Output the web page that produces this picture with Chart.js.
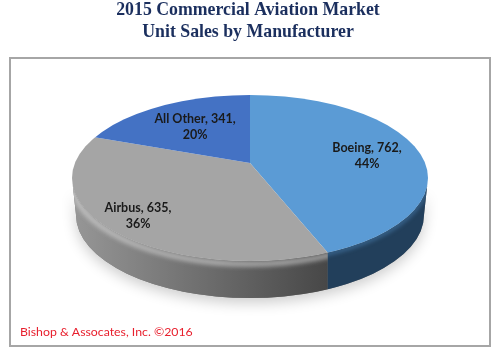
<!DOCTYPE html>
<html lang="en">
<head>
    <meta charset="UTF-8">
    <title>2015 Commercial Aviation Market</title>
    <script src="https://cdn.jsdelivr.net/npm/chart.js"></script>
    <style>
        html, body { margin: 0; padding: 0; background: #fff; }
        #wrap { width: 496px; height: 353px; }
    </style>
</head>
<body>
<div id="wrap"><canvas id="pieChart" width="496" height="353"></canvas></div>

<script>
    const titleLines = ['2015 Commercial Aviation Market', 'Unit Sales by Manufacturer'];
    const sourceNote = 'Bishop & Assocates, Inc. ©2016';
    const manufacturers = ['Boeing', 'Airbus', 'All Other'];
    const unitSales = [762, 635, 341];
    const shares = ['44%', '36%', '20%'];
    const sliceColors = ['#5b9bd5', '#a5a5a5', '#4472c4'];

    // look of the tilted pie: outline ellipse, apex of the slices, tilt
    const rim = { cx: 250, cy: 178, rx: 178, ry: 83, depth: 37, baseRx: 174 };
    const apexY = 163;
    const tilt = 0.47;
    const labelSpots = [[367, 148], [138, 208], [195, 119]];

    function ellipsePath(ctx, dy) {
        ctx.beginPath();
        ctx.ellipse(rim.cx, rim.cy + dy, rim.rx, rim.ry, 0, 0, Math.PI * 2);
    }

    function wallPath(ctx) {
        ctx.beginPath();
        ctx.ellipse(rim.cx, rim.cy, rim.rx, rim.ry, 0, Math.PI, 0, true);
        ctx.ellipse(rim.cx, rim.cy + rim.depth, rim.baseRx, rim.ry, 0, 0, Math.PI);
        ctx.closePath();
    }

    // where the Boeing/Airbus slice edge meets the rim
    function splitX(angle) {
        const dx = Math.cos(angle), dy = Math.sin(angle) * tilt, off = apexY - rim.cy;
        const a = dx * dx / (rim.rx * rim.rx) + dy * dy / (rim.ry * rim.ry);
        const b = 2 * off * dy / (rim.ry * rim.ry);
        const c = off * off / (rim.ry * rim.ry) - 1;
        const t = (-b + Math.sqrt(b * b - 4 * a * c)) / (2 * a);
        return rim.cx + t * dx;
    }

    function clipSide(ctx, x0, x1) {
        ctx.beginPath();
        ctx.rect(x0, 0, x1 - x0, 353);
        ctx.clip();
    }

    const tiltedPie = {
        id: 'tiltedPie',
        beforeDatasetsDraw(chart) {
            const ctx = chart.ctx;
            const arcs = chart.getDatasetMeta(0).data;
            const split = splitX(arcs[0].endAngle);

            // frame
            ctx.save();
            ctx.strokeStyle = '#a6a6a6';
            ctx.lineWidth = 2;
            ctx.strokeRect(10, 58, 480, 288);
            ctx.restore();

            // soft shadow under the wall
            ctx.save();
            ctx.shadowColor = 'rgba(0,0,0,0.2)';
            ctx.shadowBlur = 14;
            ctx.shadowOffsetY = 5;
            ctx.fillStyle = '#777';
            wallPath(ctx);
            ctx.fill();
            ctx.restore();

            // wall, gray part then dark blue part
            const gray = ctx.createLinearGradient(rim.cx - rim.rx, 0, split, 0);
            gray.addColorStop(0, '#979797');
            gray.addColorStop(1, '#474747');

            ctx.save();
            clipSide(ctx, 0, split);
            ctx.fillStyle = gray;
            wallPath(ctx);
            ctx.fill();
            ctx.restore();

            ctx.save();
            clipSide(ctx, split, 496);
            ctx.fillStyle = '#223f5b';
            wallPath(ctx);
            ctx.fill();
            ctx.restore();

            // bevel just below the top face
            ctx.save();
            wallPath(ctx);
            ctx.clip();
            ctx.save();
            clipSide(ctx, 0, split);
            ctx.strokeStyle = 'rgba(225,225,225,0.75)';
            ctx.lineWidth = 4;
            ctx.filter = 'blur(2.5px)';
            ellipsePath(ctx, 3);
            ctx.stroke();
            ctx.restore();
            ctx.save();
            clipSide(ctx, split, 496);
            ctx.strokeStyle = 'rgba(91,155,213,0.55)';
            ctx.lineWidth = 3;
            ctx.filter = 'blur(2px)';
            ellipsePath(ctx, 1);
            ctx.stroke();
            ctx.restore();
            ctx.restore();

            // slices are drawn by the library inside this tilted clip
            ctx.save();
            ellipsePath(ctx, 0);
            ctx.clip();
            ctx.translate(rim.cx, apexY);
            ctx.scale(1, tilt);
            ctx.translate(-arcs[0].x, -arcs[0].y);
        },
        afterDatasetsDraw(chart) {
            const ctx = chart.ctx;
            ctx.restore();

            // data labels
            ctx.save();
            ctx.fillStyle = '#1a1a1a';
            ctx.font = 'bold 12.5px Lato';
            ctx.textAlign = 'center';
            ctx.textBaseline = 'middle';
            manufacturers.forEach((name, i) => {
                const [x, y] = labelSpots[i];
                ctx.fillText(name + ', ' + unitSales[i] + ',', x, y);
                ctx.fillText(shares[i], x, y + 16);
            });
            ctx.restore();

            // source note
            ctx.save();
            ctx.fillStyle = '#e8202e';
            ctx.font = '12.3px Lato';
            ctx.textAlign = 'left';
            ctx.textBaseline = 'middle';
            ctx.fillText(sourceNote, 20, 332);
            ctx.restore();
        }
    };

    new Chart(document.getElementById('pieChart'), {
        type: 'pie',
        data: {
            labels: manufacturers,
            datasets: [{
                data: unitSales,
                backgroundColor: sliceColors,
                borderWidth: 0,
                radius: 240,
                clip: false
            }]
        },
        options: {
            responsive: false,
            animation: false,
            layout: { padding: 0 },
            plugins: {
                legend: { display: false },
                tooltip: { enabled: false },
                title: {
                    display: true,
                    text: titleLines,
                    color: '#1b2f5e',
                    font: { family: 'Liberation Serif', size: 17.8, weight: 'bold', lineHeight: 1.24 },
                    padding: { top: -1, bottom: 0 }
                }
            }
        },
        plugins: [tiltedPie]
    });
</script>
</body>
</html>
